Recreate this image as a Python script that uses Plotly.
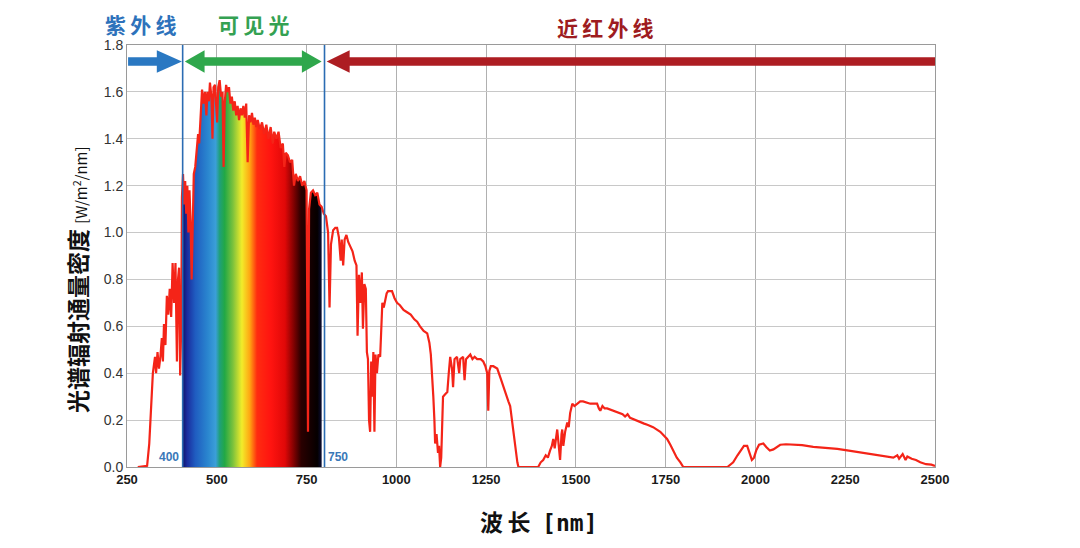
import plotly.graph_objects as go

# ---------------- data ----------------
wavelength_nm = [
    280, 306, 312, 318, 322, 328, 331, 335, 339, 343, 347, 350, 353, 357, 361, 365, 369, 373, 377, 381,
    385, 389, 392, 395, 398, 401, 403, 406, 409, 412, 415, 418, 421, 424, 427, 430, 433, 436, 440, 444,
    448, 451, 455, 459, 463, 467, 471, 474, 478, 481, 485, 488, 491, 495, 498, 501, 504, 508, 512, 516,
    519, 522, 526, 530, 534, 538, 542, 546, 550, 554, 558, 562, 566, 570, 574, 578, 582, 586, 590, 594,
    598, 602, 606, 610, 614, 620, 626, 632, 638, 644, 650, 656, 660, 666, 672, 678, 684, 688, 692, 698,
    704, 710, 715, 720, 726, 732, 738, 744, 750, 754, 757, 762, 768, 774, 780, 786, 792, 798, 804, 810,
    814, 818, 824, 830, 835, 840, 845, 848, 852, 856, 861, 866, 872, 878, 884, 889, 892, 896, 900, 904,
    907, 911, 915, 918, 921, 924, 927, 930, 933, 936, 939, 942, 946, 950, 955, 958, 961, 965, 969, 973,
    977, 982, 988, 995, 1002, 1010, 1020, 1030, 1040, 1050, 1058, 1066, 1076, 1086, 1092, 1096, 1100, 1103, 1106, 1108,
    1112, 1116, 1119, 1122, 1125, 1128, 1130, 1136, 1142, 1146, 1150, 1155, 1158, 1162, 1169, 1175, 1178, 1186, 1190, 1194,
    1200, 1206, 1212, 1218, 1225, 1235, 1242, 1248, 1253, 1256, 1259, 1263, 1270, 1281, 1290, 1298, 1305, 1312, 1317, 1322,
    1325, 1330, 1337, 1340, 1395, 1402, 1409, 1416, 1422, 1428, 1433, 1437, 1441, 1448, 1452, 1456, 1460, 1462, 1465, 1470,
    1476, 1480, 1484, 1490, 1496, 1504, 1512, 1520, 1530, 1540, 1550, 1559, 1564, 1568, 1574, 1580, 1587, 1595, 1604, 1613,
    1623, 1630, 1637, 1644, 1651, 1665, 1679, 1690, 1699, 1715, 1735, 1745, 1754, 1763, 1771, 1781, 1791, 1799, 1922, 1938,
    1950, 1958, 1968, 1977, 1984, 1990, 1996, 2002, 2010, 2022, 2030, 2040, 2050, 2060, 2069, 2085, 2105, 2130, 2161, 2190,
    2228, 2260, 2292, 2320, 2348, 2370, 2384, 2395, 2400, 2410, 2418, 2423, 2435, 2447, 2459, 2475, 2490, 2500,
]
irradiance = [
    0.0, 0.005, 0.10, 0.30, 0.40, 0.47, 0.40, 0.49, 0.42, 0.47, 0.55, 0.45, 0.61, 0.52, 0.73, 0.65, 0.76, 0.64, 0.87, 0.70,
    0.87, 0.45, 0.80, 0.85, 0.39, 0.60, 1.15, 1.25, 1.12, 1.22, 1.08, 1.20, 1.00, 1.18, 1.05, 0.80, 1.10, 1.25, 1.28, 1.36,
    1.42, 1.38, 1.52, 1.61, 1.55, 1.60, 1.50, 1.60, 1.56, 1.64, 1.58, 1.40, 1.62, 1.63, 1.55, 1.47, 1.62, 1.65, 1.58, 1.60,
    1.28, 1.55, 1.63, 1.60, 1.62, 1.55, 1.58, 1.52, 1.56, 1.50, 1.54, 1.48, 1.53, 1.50, 1.54, 1.49, 1.55, 1.30, 1.50, 1.47,
    1.51, 1.46, 1.49, 1.45, 1.48, 1.44, 1.47, 1.42, 1.46, 1.40, 1.45, 1.38, 1.43, 1.40, 1.43, 1.36, 1.38, 1.28, 1.34, 1.33,
    1.30, 1.31, 1.20, 1.25, 1.22, 1.24, 1.20, 1.22, 1.18, 0.15, 1.10, 1.17, 1.18, 1.16, 1.17, 1.12, 1.11, 1.08, 1.07, 1.00,
    0.68, 0.95, 1.01, 1.02, 1.02, 0.98, 0.88, 0.97, 0.86, 0.97, 0.99, 0.96, 0.94, 0.92, 0.88, 0.86, 0.56, 0.82, 0.70, 0.83,
    0.59, 0.78, 0.76, 0.49, 0.46, 0.20, 0.15, 0.45, 0.30, 0.49, 0.15, 0.48, 0.40, 0.48, 0.47, 0.60, 0.70, 0.68, 0.72, 0.74,
    0.75, 0.75, 0.75, 0.72, 0.70, 0.69, 0.67, 0.66, 0.65, 0.63, 0.62, 0.60, 0.58, 0.57, 0.53, 0.48, 0.40, 0.30, 0.20, 0.10,
    0.14, 0.06, 0.09, 0.0, 0.04, 0.25, 0.30, 0.31, 0.32, 0.40, 0.47, 0.42, 0.34, 0.46, 0.47, 0.40, 0.46, 0.47, 0.37, 0.46,
    0.47, 0.48, 0.46, 0.47, 0.46, 0.46, 0.45, 0.43, 0.40, 0.24, 0.41, 0.43, 0.43, 0.42, 0.38, 0.34, 0.31, 0.28, 0.26, 0.20,
    0.16, 0.08, 0.02, 0.0, 0.0, 0.02, 0.03, 0.05, 0.04, 0.07, 0.09, 0.12, 0.08, 0.16, 0.10, 0.03, 0.14, 0.16, 0.09, 0.15,
    0.19, 0.17, 0.23, 0.27, 0.26, 0.27, 0.28, 0.28, 0.275, 0.27, 0.27, 0.27, 0.25, 0.24, 0.26, 0.25, 0.25, 0.245, 0.24, 0.235,
    0.23, 0.225, 0.215, 0.225, 0.21, 0.20, 0.19, 0.185, 0.18, 0.17, 0.15, 0.135, 0.12, 0.095, 0.07, 0.04, 0.02, 0.0, 0.0, 0.02,
    0.05, 0.07, 0.09, 0.09, 0.06, 0.03, 0.04, 0.07, 0.095, 0.10, 0.085, 0.07, 0.075, 0.085, 0.095, 0.097, 0.096, 0.093, 0.086, 0.083,
    0.077, 0.07, 0.062, 0.055, 0.05, 0.045, 0.04, 0.05, 0.035, 0.055, 0.03, 0.045, 0.035, 0.03, 0.02, 0.012, 0.01, 0.005,
]

x_ticks = [250, 500, 750, 1000, 1250, 1500, 1750, 2000, 2250, 2500]
y_ticks = [0.0, 0.2, 0.4, 0.6, 0.8, 1.0, 1.2, 1.4, 1.6, 1.8]

band_edges = [250, 405, 800, 2500]          # UV | visible | near-IR (as drawn)
edge_labels = ["400", "750"]
band_names = ["紫外线", "可见光", "近红外线"]

# spectrum colours for the visible fill (wavelength in nm, colour)
spectrum_nm = [405, 418, 440, 475, 497, 508, 522, 545, 570, 592, 612, 650, 690, 712, 735, 780, 795]
spectrum_col = ["#10126a", "#1a2ea0", "#1f5cc0", "#2a86cf", "#3b9fd8", "#1fa07a", "#22a845", "#7cc23c",
                "#f2ec2a", "#ffa512", "#ff2c10", "#ff1410", "#e00808", "#8a0202", "#2a0000", "#050000", "#0c1040"]

# ---------------- figure ----------------
fig = go.Figure()

# visible spectrum gradient fill under the curve
vis_lo, vis_hi = band_edges[1], 795
vis_x = [w for w in wavelength_nm if vis_lo <= w <= vis_hi]
vis_y = [v for w, v in zip(wavelength_nm, irradiance) if vis_lo <= w <= vis_hi]
cscale = [[(w - vis_lo) / (vis_hi - vis_lo), c] for w, c in zip(spectrum_nm, spectrum_col)]
fig.add_trace(go.Scatter(
    x=vis_x, y=vis_y, mode="lines", line=dict(width=0), fill="tozeroy",
    fillgradient=dict(type="horizontal", colorscale=cscale, start=vis_lo, stop=vis_hi),
    hoverinfo="skip", showlegend=False,
))

# spectral irradiance curve
fig.add_trace(go.Scatter(
    x=wavelength_nm, y=irradiance, mode="lines",
    line=dict(color="#f42418", width=2.2), showlegend=False,
))

shapes = []
# band boundary lines
for xb in band_edges[1:3]:
    shapes.append(dict(type="line", xref="x", yref="y", x0=xb, x1=xb, y0=0, y1=1.8,
                       line=dict(color="#2b6cb3", width=1.6), layer="above"))

# arrows
ay = 1.73
sh = 0.018   # shaft half thickness
hh = 0.048   # head half height


def right_arrow(x0, tip, head, color):
    b = tip - head
    return dict(type="path", xref="x", yref="y", fillcolor=color, line=dict(width=0),
                path=f"M{x0},{ay-sh} L{b},{ay-sh} L{b},{ay-hh} L{tip},{ay} L{b},{ay+hh} L{b},{ay+sh} L{x0},{ay+sh} Z")


def left_arrow(x0, tip, head, color):
    b = tip + head
    return dict(type="path", xref="x", yref="y", fillcolor=color, line=dict(width=0),
                path=f"M{x0},{ay-sh} L{b},{ay-sh} L{b},{ay-hh} L{tip},{ay} L{b},{ay+hh} L{b},{ay+sh} L{x0},{ay+sh} Z")


def double_arrow(t0, t1, head, color):
    b0, b1 = t0 + head, t1 - head
    return dict(type="path", xref="x", yref="y", fillcolor=color, line=dict(width=0),
                path=(f"M{t0},{ay} L{b0},{ay+hh} L{b0},{ay+sh} L{b1},{ay+sh} L{b1},{ay+hh} L{t1},{ay} "
                      f"L{b1},{ay-hh} L{b1},{ay-sh} L{b0},{ay-sh} L{b0},{ay-hh} Z"))


shapes.append(right_arrow(band_edges[0] + 3, band_edges[1] - 2, 70, "#2a78c2"))
shapes.append(double_arrow(band_edges[1] + 6, band_edges[2] - 8, 55, "#2fa74c"))
shapes.append(left_arrow(band_edges[3], band_edges[2] + 6, 64, "#ad1d22"))

# plot-area geometry used to place the free texts (pixels in the page)
PL, PT, PW, PH = 127, 45, 808, 422

annotations = []
label_cols = ["#2d72bb", "#34a152", "#9e1c20"]
label_px = [(140, 24), (253, 24), (605, 27)]
for name, col, (px, py) in zip(band_names, label_cols, label_px):
    annotations.append(dict(
        x=(px - PL) / PW, y=(PT + PH - py) / PH, xref="paper", yref="paper",
        text="<b>" + "\u2009".join(name) + "</b>", showarrow=False, xanchor="center", yanchor="middle",
        font=dict(family="Noto Sans CJK SC", size=21, color=col),
    ))

annotations.append(dict(x=band_edges[1], y=0, xref="x", yref="y", text=f"<b>{edge_labels[0]}</b>",
                        showarrow=False, xanchor="right", yanchor="bottom", xshift=-2, yshift=1,
                        font=dict(family="Liberation Sans", size=12, color="#3a78b8")))
annotations.append(dict(x=band_edges[2], y=0, xref="x", yref="y", text=f"<b>{edge_labels[1]}</b>",
                        showarrow=False, xanchor="left", yanchor="bottom", xshift=1, yshift=1,
                        font=dict(family="Liberation Sans", size=12, color="#3a78b8")))

# axis titles
annotations.append(dict(
    x=(77 - PL) / PW, y=(PT + PH - 280) / PH, xref="paper", yref="paper", textangle=-90,
    text=("<b>光谱辐射通量密度</b> <span style='font-size:15px'>[W/m<sup>2</sup>/nm]</span>"),
    showarrow=False, xanchor="center", yanchor="middle",
    font=dict(family="Noto Sans CJK SC", size=23, color="#111111"),
))
annotations.append(dict(
    x=(539 - PL) / PW, y=(PT + PH - 521) / PH, xref="paper", yref="paper",
    text="<b>波\u2009长\u2002<span style='font-family:DejaVu Sans Mono'>[nm]</span></b>",
    showarrow=False, xanchor="center", yanchor="middle",
    font=dict(family="Noto Sans CJK SC", size=23, color="#111111"),
))

# the page body adds an 8 px offset; compensate in the margins
OFF = 8
fig.update_layout(
    width=1080, height=548,
    margin=dict(l=PL - OFF, r=1080 - PL - PW + OFF, t=PT - OFF, b=548 - PT - PH + OFF),
    paper_bgcolor="white", plot_bgcolor="white",
    shapes=shapes, annotations=annotations,
    showlegend=False,
)
fig.update_xaxes(
    range=[250, 2500], tickvals=x_ticks, ticktext=[str(t) for t in x_ticks],
    showgrid=True, gridcolor="#b0b0b0", gridwidth=1,
    showline=True, linecolor="#9a9a9a", linewidth=1, mirror=True,
    zeroline=False, ticks="", ticklen=0,
    tickfont=dict(family="Liberation Sans", size=13, color="#1a1a1a", weight="bold"),
)
fig.update_yaxes(
    range=[0, 1.8], tickvals=y_ticks, ticktext=[f"{t:.1f}" for t in y_ticks],
    showgrid=True, gridcolor="#c8c8c8", gridwidth=1,
    showline=True, linecolor="#9a9a9a", linewidth=1, mirror=True,
    zeroline=False, ticks="",
    tickfont=dict(family="Liberation Sans", size=14, color="#333333"),
)

fig.write_html("out.html")
